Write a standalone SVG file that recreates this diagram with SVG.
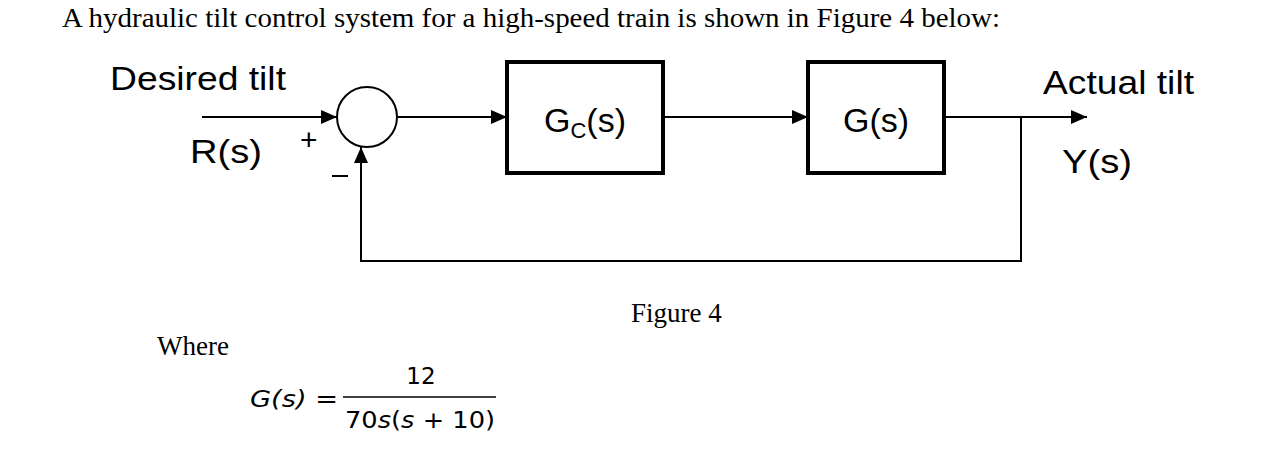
<svg xmlns="http://www.w3.org/2000/svg" width="1272" height="457" viewBox="0 0 1272 457">
<style>
.serif{font-family:"Liberation Serif",serif;fill:#000}
.sans{font-family:"Liberation Sans",Arial,sans-serif;fill:#000}
.ln{stroke:#000;stroke-width:2;fill:none}
.box{stroke:#000;stroke-width:4;fill:#fff}
.math{font-family:"DejaVu Sans","Liberation Sans",sans-serif;fill:#000;font-size:23px}
</style>
<defs><marker id="ah" markerWidth="16" markerHeight="14" refX="16" refY="7" orient="auto" markerUnits="userSpaceOnUse" viewBox="0 0 16 14"><path d="M0,0 L16,7 L0,14 z" fill="#000"/></marker></defs>
<rect width="1272" height="457" fill="#fff"/>
<text class="serif" x="62" y="27" font-size="28" textLength="938" lengthAdjust="spacingAndGlyphs">A hydraulic tilt control system for a high-speed train is shown in Figure 4 below:</text>
<g id="connectors">
<line class="ln" x1="202" y1="117" x2="337" y2="117" marker-end="url(#ah)"/>
<line class="ln" x1="397" y1="117" x2="507" y2="117" marker-end="url(#ah)"/>
<line class="ln" x1="663" y1="117" x2="808" y2="117" marker-end="url(#ah)"/>
<line class="ln" x1="944" y1="117" x2="1087" y2="117" marker-end="url(#ah)"/>
<polyline class="ln" points="1021,117 1021,261 361,261 361,147" marker-end="url(#ah)"/>
</g>
<g id="sum"><circle cx="367" cy="117" r="30" fill="#fff" stroke="#000" stroke-width="2"/></g>
<g id="gc"><rect class="box" x="507" y="62" width="156" height="111"/><text class="sans" x="585" y="132" font-size="34" text-anchor="middle">G<tspan font-size="22" dy="6">C</tspan><tspan dy="-6">(s)</tspan></text></g>
<g id="g"><rect class="box" x="808" y="62" width="136" height="111"/><text class="sans" x="876" y="132" font-size="34" text-anchor="middle">G(s)</text></g>
<text class="sans" x="110" y="90" font-size="34" textLength="176" lengthAdjust="spacingAndGlyphs">Desired tilt</text>
<text class="sans" x="190" y="163" font-size="34" textLength="72" lengthAdjust="spacingAndGlyphs">R(s)</text>
<text class="sans" x="300" y="150" font-size="30">+</text>
<line x1="332" y1="176" x2="348" y2="176" stroke="#000" stroke-width="2"/>
<text class="sans" x="1043" y="94" font-size="34" textLength="151" lengthAdjust="spacingAndGlyphs">Actual tilt</text>
<text class="sans" x="1062" y="173" font-size="34" textLength="70" lengthAdjust="spacingAndGlyphs">Y(s)</text>
<text class="serif" x="631" y="322" font-size="27">Figure 4</text>
<text class="serif" x="157" y="355" font-size="27">Where</text>
<text class="math" x="250" y="407" font-style="italic" textLength="88" lengthAdjust="spacingAndGlyphs">G(s) =</text>
<text class="math" x="421" y="384" text-anchor="middle">12</text>
<line x1="343" y1="397" x2="496" y2="397" stroke="#000" stroke-width="1.5"/>
<text class="math" x="345" y="428" textLength="150" lengthAdjust="spacingAndGlyphs">70<tspan font-style="italic">s</tspan>(<tspan font-style="italic">s</tspan> + 10)</text>
</svg>
